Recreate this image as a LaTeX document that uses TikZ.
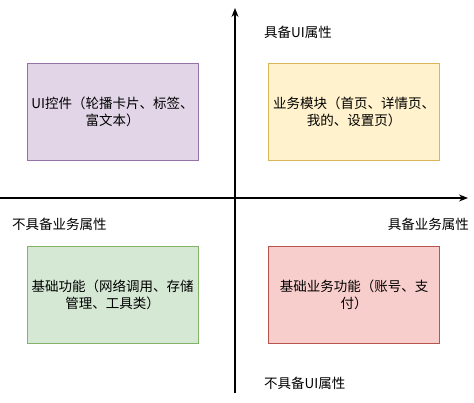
\documentclass[tikz,border=0pt]{standalone}
\usepackage{fontspec}
\setmainfont{Noto Sans CJK SC}
\usetikzlibrary{arrows.meta}
\definecolor{pfill}{HTML}{E1D5E7}\definecolor{pdraw}{HTML}{9673A6}
\definecolor{yfill}{HTML}{FFF2CC}\definecolor{ydraw}{HTML}{D6B656}
\definecolor{gfill}{HTML}{D5E8D4}\definecolor{gdraw}{HTML}{82B366}
\definecolor{rfill}{HTML}{F8CECC}\definecolor{rdraw}{HTML}{B85450}
\begin{document}
\begin{tikzpicture}[x=1pt,y=-1pt,
  quad/.style={draw, line width=0.8pt, minimum width=171pt, minimum height=97pt, align=center, font=\fontsize{13.5}{17}\selectfont, inner sep=2pt},
  lbl/.style={font=\fontsize{13.5}{17}\selectfont, inner sep=0pt},
  axis/.style={line width=1.2pt, -{Stealth[length=9pt,width=7pt]}}]
\useasboundingbox (0,0) rectangle (474,403);
\coordinate (vb) at (235,393);
\coordinate (vt) at (235,8);
\coordinate (hl) at (0,198);
\coordinate (hr) at (468,198);
\draw[axis] (vb) -- (vt);
\draw[axis] (hl) -- (hr);
\node[quad, fill=pfill, draw=pdraw] (ui) at (112.5,111.5) {UI控件（轮播卡片、标签、\\富文本）};
\node[quad, fill=yfill, draw=ydraw] (biz) at (354,111.5) {业务模块（首页、详情页、\\我的、设置页）};
\node[quad, fill=gfill, draw=gdraw] (base) at (112.5,294.5) {基础功能（网络调用、存储\\管理、工具类）};
\node[quad, fill=rfill, draw=rdraw] (bbiz) at (354,294.5) {基础业务功能（账号、支\\付）};
\node[lbl, anchor=west] (t1) at (264,32) {具备UI属性};
\node[lbl, anchor=west] (t2) at (12,224) {不具备业务属性};
\node[lbl, anchor=east] (t3) at (469,224) {具备业务属性};
\node[lbl, anchor=west] (t4) at (264,383) {不具备UI属性};
\end{tikzpicture}
\end{document}
